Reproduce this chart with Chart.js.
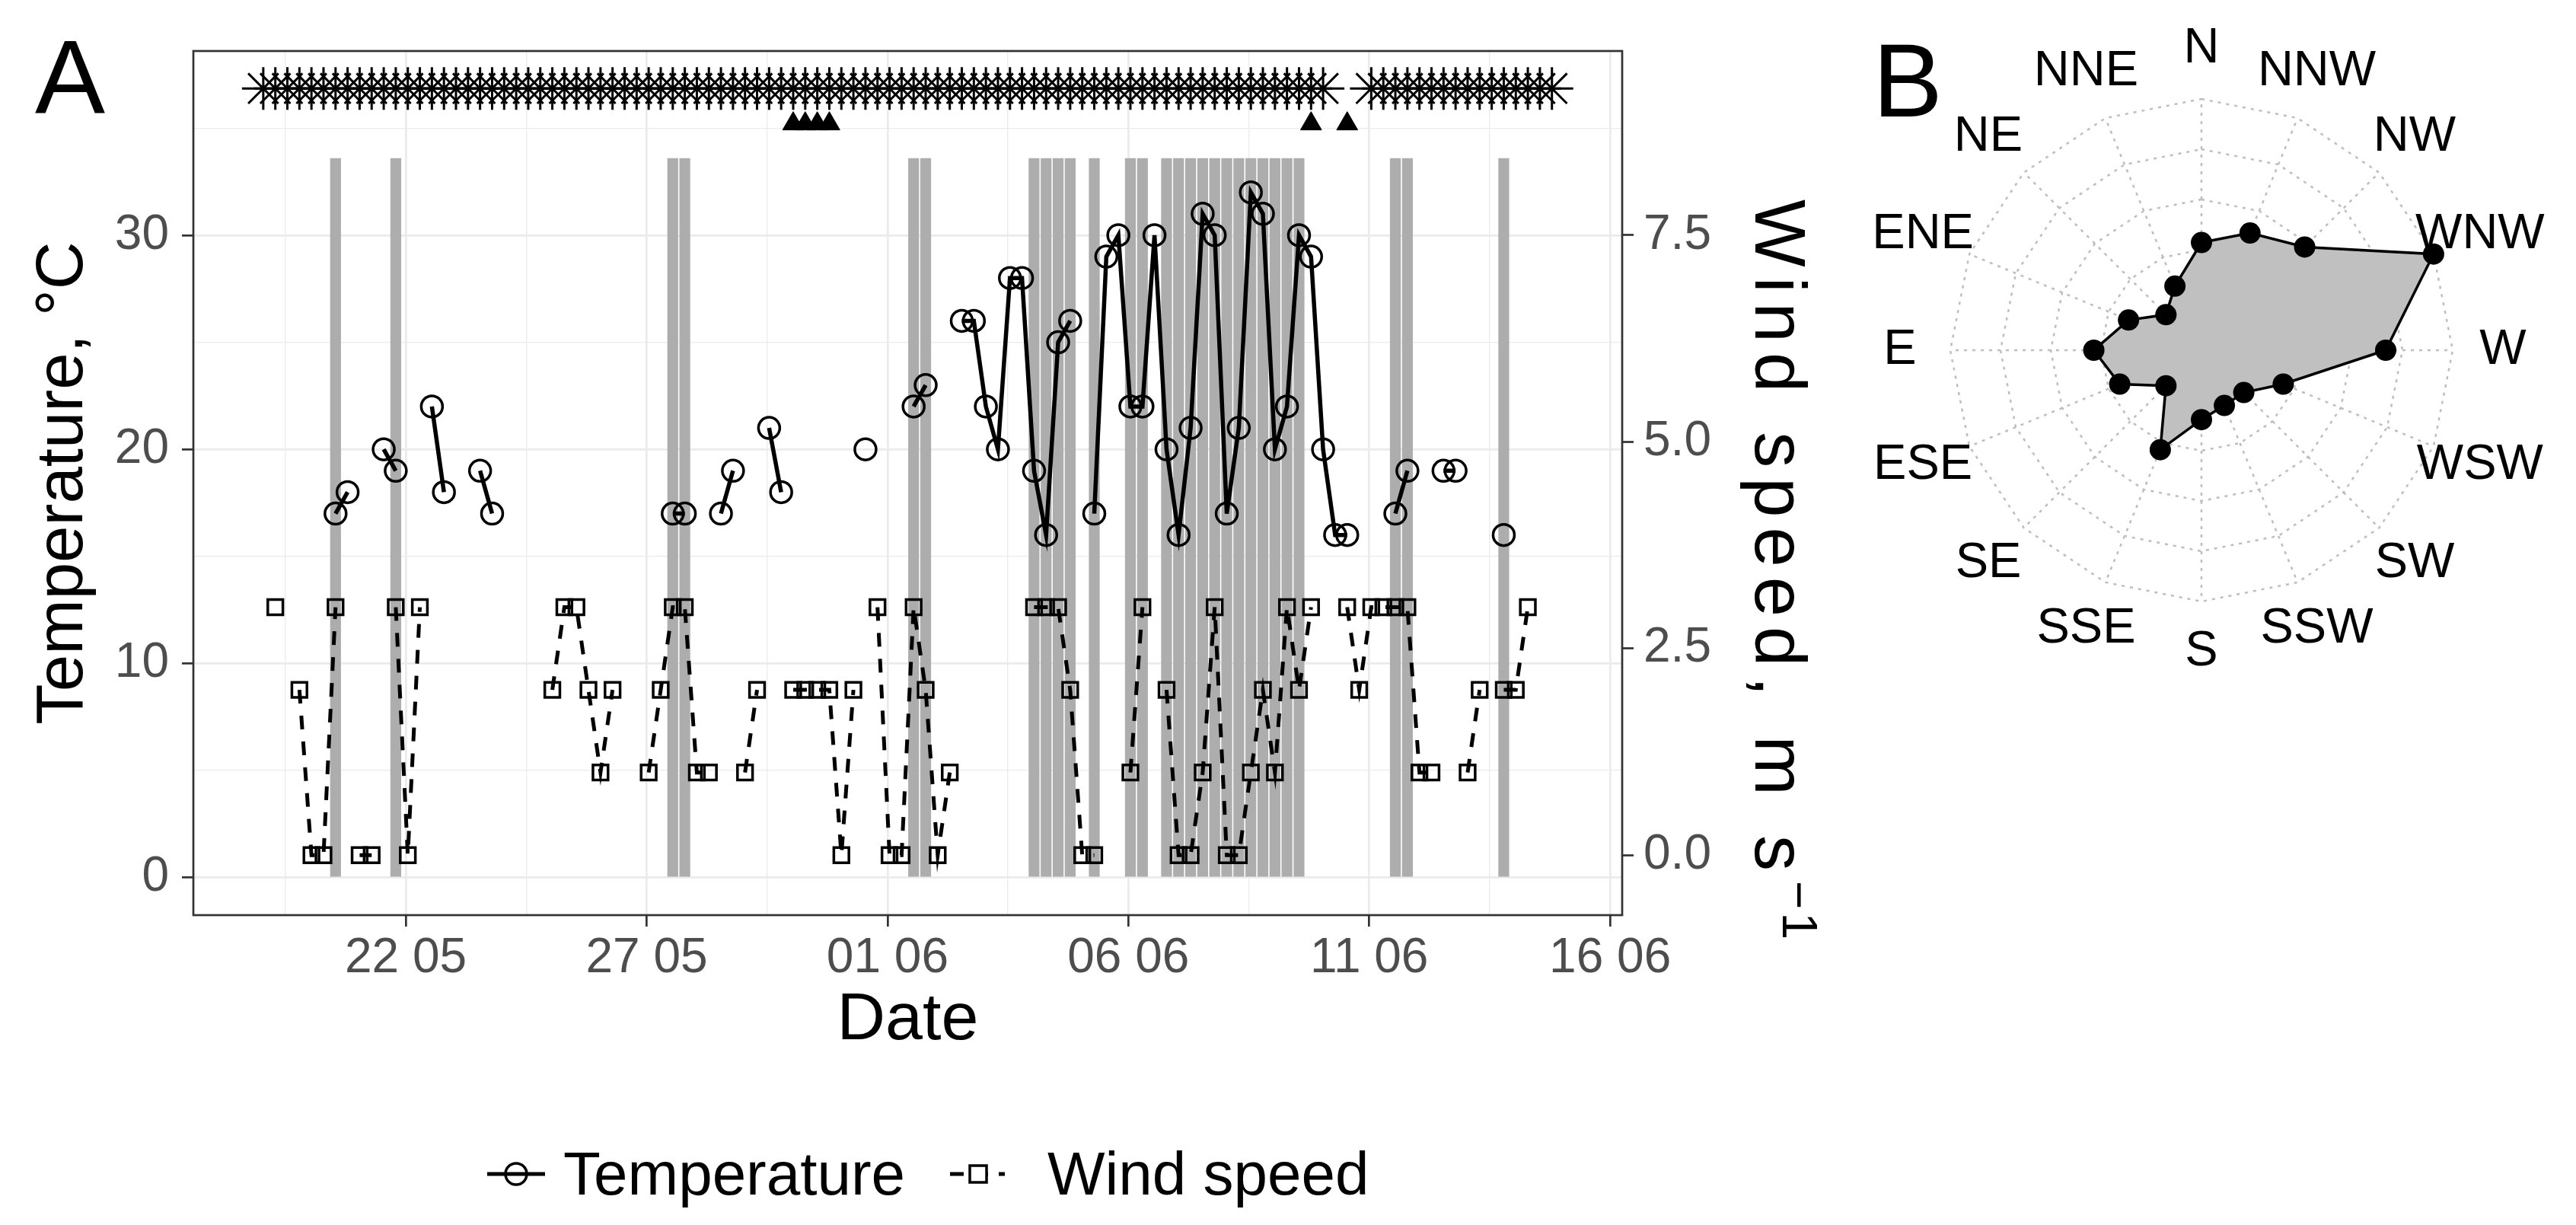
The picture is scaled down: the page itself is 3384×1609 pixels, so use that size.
<!DOCTYPE html>
<html>
<head>
<meta charset="utf-8">
<script src="https://cdn.jsdelivr.net/npm/chart.js@4.4.1/dist/chart.umd.min.js"></script>
<style>
    body {
        margin: 0;
        width: 3384px;
        height: 1609px;
        background: #fff;
        position: relative;
        overflow: hidden;
        font-family: "Liberation Sans", Arial, sans-serif;
    }
    canvas, .rotulo, svg { position: absolute; }
    #grafico-a { left: 0; top: 0; }
    #grafico-b { left: 2412px; top: 20px; }
    .rotulo { line-height: 1; white-space: nowrap; color: #000; }
    .panel { font-size: 138px; }
    .leyenda { font-size: 80px; top: 1502px; }
    #titulo-viento {
        left: 2338px;
        top: 750px;
        font-size: 94px;
        letter-spacing: 13px;
        transform: translate(-50%, -50%) rotate(90deg);
    }
    #titulo-viento span { font-size: 64px; position: relative; top: -36px; letter-spacing: 4px; }
</style>
</head>
<body>
<canvas id="grafico-a" width="2420" height="1420"></canvas>
<canvas id="grafico-b" width="960" height="880"></canvas>

<div class="rotulo panel" style="left:46px; top:32px;">A</div>
<div class="rotulo panel" style="left:2460px; top:36px;">B</div>
<div class="rotulo" id="titulo-viento">Wind speed, m s<span>−1</span></div>

<svg width="100" height="60" style="left:628px; top:1512px;">
    <line x1="12" y1="30" x2="88" y2="30" stroke="#000" stroke-width="5"/>
    <circle cx="50" cy="30" r="14" fill="none" stroke="#000" stroke-width="3.5"/>
</svg>
<div class="rotulo leyenda" style="left:740px;">Temperature</div>
<svg width="100" height="60" style="left:1236px; top:1512px;">
    <line x1="12" y1="30" x2="84" y2="30" stroke="#000" stroke-width="5" stroke-dasharray="18 14"/>
    <rect x="38" y="19" width="22" height="22" fill="#fff" stroke="#000" stroke-width="3.5"/>
</svg>
<div class="rotulo leyenda" style="left:1376px;">Wind speed</div>

<script>
// dias contados desde el 1 de mayo (32 = 1 de junio); cuatro observaciones por dia
const dias = [19, 20, 21, 22, 23, 24, 25, 26, 27, 28, 29, 30, 31, 32, 33, 34, 35, 36, 37, 38, 39, 40, 41, 42, 43, 44, 45];
const horas = [1, 7, 13, 19];

const temperatura = [
    [null, null, null, null],
    [null, null, 17, 18],
    [null, null, 20, 19],
    [null, null, 22, 18],
    [null, null, 19, 17],
    [null, null, null, null],
    [null, null, null, null],
    [null, null, null, null],
    [null, null, 17, 17],
    [null, null, 17, 19],
    [null, null, 21, 18],
    [null, null, null, null],
    [null, null, 20, null],
    [null, null, 22, 23],
    [null, null, 26, 26],
    [22, 20, 28, 28],
    [19, 16, 25, 26],
    [null, 17, 29, 30],
    [22, 22, 30, 20],
    [16, 21, 31, 30],
    [17, 21, 32, 31],
    [20, 22, 30, 29],
    [20, 16, 16, null],
    [null, null, 17, 19],
    [null, null, 19, 19],
    [null, null, null, 16],
    [null, null, null, null]
];

const viento = [
    [null, 3, null, 2],
    [0, 0, 3, null],
    [0, 0, null, 3],
    [0, 3, null, null],
    [null, null, null, null],
    [null, null, null, null],
    [2, 3, 3, 2],
    [1, 2, null, null],
    [1, 2, 3, 3],
    [1, 1, null, null],
    [1, 2, null, null],
    [2, 2, 2, 2],
    [0, 2, null, 3],
    [0, 0, 3, 2],
    [0, 1, null, null],
    [null, null, null, null],
    [3, 3, 3, 2],
    [0, 0, null, null],
    [1, 3, null, 2],
    [0, 0, 1, 3],
    [0, 0, 1, 2],
    [1, 3, 2, 3],
    [null, null, 3, 2],
    [3, 3, 3, 3],
    [1, 1, null, null],
    [1, 2, null, 2],
    [2, 3, null, null]
];

// franjas grises, triangulos y asteriscos: una letra por observacion
const sombreado = ['0000', '0010', '0001', '0000', '0000', '0000', '0000', '0000', '0011', '0000', '0000', '0000', '0000', '0011',
    '0000', '0000', '1111', '0100', '1101', '1111', '1111', '1110', '0000', '0011', '0000', '0001', '0000'];
const lluvia = ['0000', '0000', '0000', '0000', '0000', '0000', '0000', '0000', '0000', '0000', '0000', '1111', '0000', '0000',
    '0000', '0000', '0000', '0000', '0000', '0000', '0000', '0001', '0010', '0000', '0000', '0000', '0000'];
const registro = ['1111', '1111', '1111', '1111', '1111', '1111', '1111', '1111', '1111', '1111', '1111', '1111', '1111', '1111',
    '1111', '1111', '1111', '1111', '1111', '1111', '1111', '1111', '1000', '1111', '1111', '1111', '1111'];

const fechasTicks = [22, 27, 32, 37, 42, 47];
const fechasEtiquetas = ['22 05', '27 05', '01 06', '06 06', '11 06', '16 06'];
const temperaturaTicks = [0, 10, 20, 30];
const vientoTicks = [0, 2.5, 5, 7.5];

const rumbos = ['N', 'NNW', 'NW', 'WNW', 'W', 'WSW', 'SW', 'SSW', 'S', 'SSE', 'SE', 'ESE', 'E', 'ENE', 'NE', 'NNE'];
const frecuencias = [6, 8, 10, 21, 14, 4, 1, 1, 2, 6, 0, 4, 6, 3, 0, 2];

(function () {
    const fuente = '"Liberation Sans", Arial, sans-serif';

    // escala secundaria: temperatura = viento * 3.86 + 1.05
    const tMin = -1.75;
    const tMax = 38.6;
    const factorViento = 3.86;
    const desfaseViento = 1.05;

    function serie(tabla) {
        const puntos = [];
        dias.forEach((dia, i) => {
            horas.forEach((hora, j) => {
                puntos.push({ x: dia + hora / 24, y: tabla[i][j] });
            });
        });
        return puntos;
    }

    function marcas(mascara, nivel) {
        const puntos = [];
        dias.forEach((dia, i) => {
            horas.forEach((hora, j) => {
                if (mascara[i][j] === '1') {
                    puntos.push({ x: dia + hora / 24, y: nivel });
                }
            });
        });
        return puntos;
    }

    const rejillaFechas = [];
    fechasTicks.forEach(v => rejillaFechas.push(v - 2.5, v));
    const rejillaTemp = [];
    temperaturaTicks.forEach(v => rejillaTemp.push(v, v + 5));

    const esFecha = v => fechasTicks.includes(v);
    const esTemp = v => temperaturaTicks.includes(v);

    const marcoPanel = {
        id: 'marcoPanel',
        afterDatasetsDraw(chart) {
            const { ctx, chartArea } = chart;
            ctx.save();
            ctx.strokeStyle = '#333333';
            ctx.lineWidth = 2.7;
            ctx.strokeRect(chartArea.left, chartArea.top, chartArea.right - chartArea.left, chartArea.bottom - chartArea.top);
            ctx.restore();
        }
    };

    const ctxA = document.querySelector('#grafico-a').getContext('2d');
    new Chart(ctxA, {
        type: 'line',
        data: {
            datasets: [{
                type: 'bar',
                data: marcas(sombreado, null).map(p => ({ x: p.x, y: [0, 33.6] })),
                backgroundColor: '#adadad',
                barPercentage: 0.9,
                categoryPercentage: 1,
                yAxisID: 'y',
                order: 5
            }, {
                data: serie(viento),
                yAxisID: 'y2',
                borderColor: '#000',
                borderWidth: 5,
                borderDash: [18, 16],
                tension: 0,
                pointStyle: 'rect',
                pointRadius: 14,
                pointBorderWidth: 3.5,
                pointBorderColor: '#000',
                pointBackgroundColor: 'rgba(0,0,0,0)',
                order: 2
            }, {
                data: serie(temperatura),
                yAxisID: 'y',
                borderColor: '#000',
                borderWidth: 5.5,
                tension: 0,
                pointStyle: 'circle',
                pointRadius: 14,
                pointBorderWidth: 3.5,
                pointBorderColor: '#000',
                pointBackgroundColor: 'rgba(0,0,0,0)',
                order: 1
            }, {
                data: marcas(registro, 36.85),
                yAxisID: 'y',
                showLine: false,
                borderColor: '#000',
                pointStyle: 'star',
                pointRadius: 28,
                pointBorderWidth: 3,
                pointBorderColor: '#000',
                order: 0
            }, {
                data: marcas(lluvia, 35.2),
                yAxisID: 'y',
                showLine: false,
                borderColor: '#000',
                pointStyle: 'triangle',
                pointRadius: 16,
                pointBorderWidth: 1,
                pointBorderColor: '#000',
                pointBackgroundColor: '#000',
                order: 0
            }]
        },
        options: {
            responsive: false,
            animation: false,
            events: [],
            layout: { padding: { top: 67, left: 0, right: 0, bottom: 0 } },
            plugins: {
                legend: { display: false },
                tooltip: { enabled: false }
            },
            scales: {
                x: {
                    type: 'linear',
                    min: 17.59,
                    max: 47.25,
                    offset: false,
                    afterBuildTicks: s => { s.ticks = rejillaFechas.map(v => ({ value: v })); },
                    afterFit: s => { s.height = 218; },
                    border: { display: false },
                    grid: {
                        offset: false,
                        color: '#ebebeb',
                        lineWidth: c => esFecha(c.tick.value) ? 2.7 : 1.35,
                        tickColor: c => esFecha(c.tick.value) ? '#333333' : 'rgba(0,0,0,0)',
                        tickLength: 15,
                        tickWidth: 2.7
                    },
                    ticks: {
                        autoSkip: false,
                        maxRotation: 0,
                        padding: 4,
                        color: '#4d4d4d',
                        font: { family: fuente, size: 64 },
                        callback: v => esFecha(v) ? fechasEtiquetas[fechasTicks.indexOf(v)] : ''
                    },
                    title: {
                        display: true,
                        text: 'Date',
                        color: '#000',
                        font: { family: fuente, size: 88 },
                        padding: { top: 0, bottom: 26 }
                    }
                },
                y: {
                    position: 'left',
                    min: tMin,
                    max: tMax,
                    afterBuildTicks: s => { s.ticks = rejillaTemp.map(v => ({ value: v })); },
                    afterFit: s => { s.width = 254; },
                    border: { display: false },
                    grid: {
                        color: '#ebebeb',
                        lineWidth: c => esTemp(c.tick.value) ? 2.7 : 1.35,
                        tickColor: c => esTemp(c.tick.value) ? '#333333' : 'rgba(0,0,0,0)',
                        tickLength: 15,
                        tickWidth: 2.7
                    },
                    ticks: {
                        padding: 17,
                        color: '#4d4d4d',
                        font: { family: fuente, size: 64 },
                        callback: v => esTemp(v) ? String(v) : ''
                    },
                    title: {
                        display: true,
                        text: 'Temperature, °C',
                        color: '#000',
                        font: { family: fuente, size: 87 },
                        padding: { top: 32, bottom: 0 }
                    }
                },
                y2: {
                    position: 'right',
                    min: (tMin - desfaseViento) / factorViento,
                    max: (tMax - desfaseViento) / factorViento,
                    afterBuildTicks: s => { s.ticks = vientoTicks.map(v => ({ value: v })); },
                    afterFit: s => { s.width = 289; },
                    border: { display: false },
                    grid: {
                        drawOnChartArea: false,
                        color: '#333333',
                        tickColor: '#333333',
                        tickLength: 15,
                        tickWidth: 2.7
                    },
                    ticks: {
                        padding: 13,
                        color: '#4d4d4d',
                        font: { family: fuente, size: 64 },
                        callback: v => v.toFixed(1)
                    }
                }
            }
        },
        plugins: [marcoPanel]
    });

    const rotulosRumbo = {
        id: 'rotulosRumbo',
        afterDraw(chart) {
            const { ctx } = chart;
            const escala = chart.scales.r;
            ctx.save();
            ctx.fillStyle = '#000';
            ctx.font = '65px ' + fuente;
            ctx.textAlign = 'center';
            ctx.textBaseline = 'middle';
            rumbos.forEach((rumbo, i) => {
                const p = escala.getPointPosition(i, escala.drawingArea * 1.2);
                ctx.fillText(rumbo, p.x, p.y);
            });
            ctx.restore();
        }
    };

    const ctxB = document.querySelector('#grafico-b').getContext('2d');
    new Chart(ctxB, {
        type: 'radar',
        data: {
            labels: rumbos,
            datasets: [{
                data: frecuencias,
                fill: 'start',
                backgroundColor: '#c0c0c0',
                borderColor: '#000',
                borderWidth: 3.5,
                pointRadius: 14,
                pointBorderWidth: 0,
                pointBackgroundColor: '#000'
            }]
        },
        options: {
            responsive: false,
            animation: false,
            events: [],
            layout: { padding: { left: 150, right: 150, top: 110, bottom: 110 } },
            plugins: {
                legend: { display: false },
                tooltip: { enabled: false }
            },
            scales: {
                r: {
                    min: -5.25,
                    max: 21,
                    startAngle: 0,
                    ticks: { display: false, stepSize: 5.25 },
                    grid: { circular: false, color: '#bebebe', lineWidth: 2.5 },
                    border: { dash: [4, 7] },
                    angleLines: { color: '#bebebe', lineWidth: 2.5, borderDash: [4, 7] },
                    pointLabels: { display: false }
                }
            }
        },
        plugins: [rotulosRumbo]
    });
})();
</script>
</body>
</html>
